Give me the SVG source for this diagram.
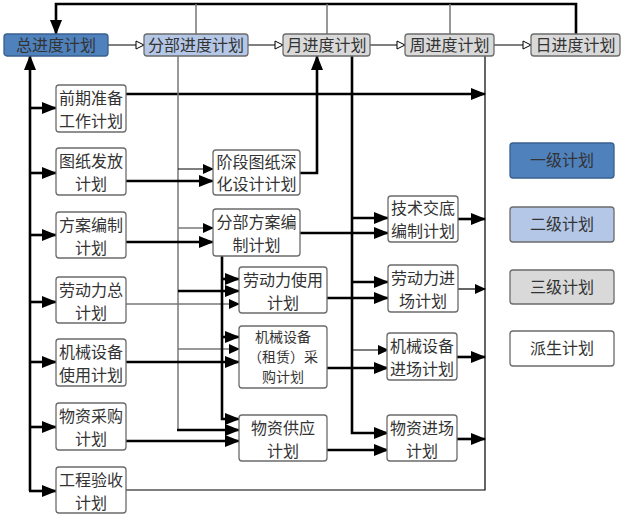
<svg xmlns="http://www.w3.org/2000/svg" width="625" height="517" viewBox="0 0 625 517">
<style>
.b{fill:#fff;stroke:#6b6b6b;stroke-width:1.3}
.l1{fill:#4f81bd;stroke:#3a5f8f;stroke-width:1.3}
.l2{fill:#b4c7e7;stroke:#6b6b6b;stroke-width:1.3}
.l3{fill:#d9d9d9;stroke:#6b6b6b;stroke-width:1.3}
text{font-family:"Noto Sans CJK SC","Noto Sans CJK JP",sans-serif;font-size:16px;fill:#333;text-anchor:middle}
.s{font-size:14px}
.tk{fill:none;stroke:#000;stroke-width:2.6}
.tn{fill:none;stroke:#000;stroke-width:1.2}
.gr{fill:none;stroke:#777;stroke-width:1.5}
</style>
<defs>
<marker id="big" markerUnits="userSpaceOnUse" markerWidth="15" markerHeight="12" refX="14" refY="6" orient="auto"><path d="M0,0 L15,6 L0,12 z" fill="#000"/></marker>
<marker id="sm" markerUnits="userSpaceOnUse" markerWidth="11" markerHeight="10" refX="10" refY="5" orient="auto"><path d="M0,0 L11,5 L0,10 z" fill="#000"/></marker>
<marker id="hol" markerUnits="userSpaceOnUse" markerWidth="10" markerHeight="10" refX="9" refY="5" orient="auto"><path d="M1,1 L9,5 L1,9 z" fill="#fff" stroke="#000" stroke-width="1"/></marker>
</defs>
<g id="connectors">
<path class="tk" d="M576,34 V4 H56 V34" marker-end="url(#big)"/>
<path class="gr" d="M196,4 V34 M327,4 V34 M450,4 V34"/>
<path class="tn" d="M108,45 H144" marker-end="url(#hol)"/>
<path class="tn" d="M248,45 H283" marker-end="url(#hol)"/>
<path class="tn" d="M370,45 H405" marker-end="url(#hol)"/>
<path class="tn" d="M494,45 H531" marker-end="url(#hol)"/>
<path class="tk" d="M30,491 V56" marker-end="url(#big)"/>
<path class="tk" d="M30,108 H56" marker-end="url(#big)"/>
<path class="tk" d="M30,173 H56" marker-end="url(#big)"/>
<path class="tk" d="M30,235 H56" marker-end="url(#big)"/>
<path class="tk" d="M30,302 H56" marker-end="url(#big)"/>
<path class="tk" d="M30,362 H56" marker-end="url(#big)"/>
<path class="tk" d="M30,427 H56" marker-end="url(#big)"/>
<path class="tk" d="M29,491 H56" marker-end="url(#big)"/>
<path class="tk" d="M126,94 H485" marker-end="url(#big)"/>
<path class="tn" d="M126,490 H485 V56"/>
<path class="gr" d="M178,56 V430"/>
<path class="tn" d="M178,169 H213" marker-end="url(#sm)"/>
<path class="gr" d="M178,228 H213" marker-end="url(#sm)"/>
<path class="tk" d="M178,291 H239" marker-end="url(#big)"/>
<path class="gr" d="M178,349 H239" marker-end="url(#sm)"/>
<path class="tk" d="M177,430 H239" marker-end="url(#big)"/>
<path class="tk" d="M126,181 H213" marker-end="url(#big)"/>
<path class="tk" d="M126,242 H213" marker-end="url(#big)"/>
<path class="gr" d="M126,304 H239" marker-end="url(#sm)"/>
<path class="tk" d="M126,362 H239" marker-end="url(#big)"/>
<path class="tk" d="M126,441 H239" marker-end="url(#big)"/>
<path class="tk" d="M222,256 V419 H239" marker-end="url(#big)"/>
<path class="tk" d="M222,279 H239" marker-end="url(#big)"/>
<path class="tk" d="M222,337 H239" marker-end="url(#big)"/>
<path class="tk" d="M300,173 H317 V56" marker-end="url(#big)"/>
<path class="tk" d="M352,56 V433 H388" marker-end="url(#big)"/>
<path class="tk" d="M352,218 H388" marker-end="url(#big)"/>
<path class="tk" d="M352,282 H388" marker-end="url(#big)"/>
<path class="tn" d="M352,350 H388" marker-end="url(#sm)"/>
<path class="tk" d="M300,233 H388" marker-end="url(#big)"/>
<path class="tk" d="M327,298 H388" marker-end="url(#big)"/>
<path class="tk" d="M327,368 H388" marker-end="url(#big)"/>
<path class="tk" d="M327,450 H388" marker-end="url(#big)"/>
<path class="tk" d="M458,219 H485" marker-end="url(#big)"/>
<path class="tn" d="M458,289 H485" marker-end="url(#sm)"/>
<path class="tk" d="M457,357 H485" marker-end="url(#big)"/>
<path class="tk" d="M457,439 H485" marker-end="url(#big)"/>
</g>
<g id="n-total"><rect class="l1" x="4" y="34" width="104" height="22" rx="3"/><text x="56" y="51">总进度计划</text></g>
<g id="n-fenbu"><rect class="l2" x="144" y="34" width="104" height="22" rx="3"/><text x="196" y="51">分部进度计划</text></g>
<g id="n-month"><rect class="l3" x="283" y="34" width="87" height="22" rx="3"/><text x="326.5" y="51">月进度计划</text></g>
<g id="n-week"><rect class="l3" x="405" y="34" width="89" height="22" rx="3"/><text x="449.5" y="51">周进度计划</text></g>
<g id="n-day"><rect class="l3" x="531" y="34" width="89" height="22" rx="3"/><text x="575.5" y="51">日进度计划</text></g>
<g id="n-qianqi"><rect class="b" x="56" y="85" width="70" height="47" rx="3"/><text x="91" y="104">前期准备</text><text x="91" y="127">工作计划</text></g>
<g id="n-tuzhi"><rect class="b" x="56" y="148" width="70" height="47" rx="3"/><text x="91" y="167">图纸发放</text><text x="91" y="190">计划</text></g>
<g id="n-fangan"><rect class="b" x="56" y="212" width="70" height="46" rx="3"/><text x="91" y="231">方案编制</text><text x="91" y="254">计划</text></g>
<g id="n-laodong"><rect class="b" x="56" y="277" width="70" height="46" rx="3"/><text x="91" y="296">劳动力总</text><text x="91" y="319">计划</text></g>
<g id="n-jixie"><rect class="b" x="56" y="339" width="70" height="47" rx="3"/><text x="91" y="358">机械设备</text><text x="91" y="381">使用计划</text></g>
<g id="n-caigou"><rect class="b" x="56" y="403" width="70" height="47" rx="3"/><text x="91" y="422">物资采购</text><text x="91" y="445">计划</text></g>
<g id="n-yanshou"><rect class="b" x="56" y="467" width="70" height="46" rx="3"/><text x="91" y="486">工程验收</text><text x="91" y="509">计划</text></g>
<g id="n-jieduan"><rect class="b" x="213" y="150" width="87" height="45" rx="3"/><text x="256.5" y="168">阶段图纸深</text><text x="256.5" y="190">化设计计划</text></g>
<g id="n-fbfangan"><rect class="b" x="213" y="209" width="87" height="47" rx="3"/><text x="256.5" y="228">分部方案编</text><text x="256.5" y="251">制计划</text></g>
<g id="n-ldsy"><rect class="b" x="239" y="267" width="88" height="46" rx="3"/><text x="283" y="286">劳动力使用</text><text x="283" y="309">计划</text></g>
<g id="n-jxzl"><rect class="b" x="239" y="326" width="88" height="62" rx="3"/><text class="s" x="283" y="342">机械设备</text><text class="s" x="283" y="362">（租赁）采</text><text class="s" x="283" y="382">购计划</text></g>
<g id="n-gongying"><rect class="b" x="239" y="415" width="88" height="46" rx="3"/><text x="283" y="434">物资供应</text><text x="283" y="457">计划</text></g>
<g id="n-jishu"><rect class="b" x="388" y="196" width="70" height="46" rx="3"/><text x="423" y="214">技术交底</text><text x="423" y="237">编制计划</text></g>
<g id="n-ldjc"><rect class="b" x="388" y="265" width="70" height="47" rx="3"/><text x="423" y="284">劳动力进</text><text x="423" y="307">场计划</text></g>
<g id="n-jxjc"><rect class="b" x="387" y="333" width="70" height="47" rx="3"/><text x="422" y="352">机械设备</text><text x="422" y="375">进场计划</text></g>
<g id="n-wzjc"><rect class="b" x="387" y="415" width="70" height="46" rx="3"/><text x="422" y="434">物资进场</text><text x="422" y="457">计划</text></g>
<g id="legend1"><rect class="l1" x="510" y="143" width="104" height="35" rx="3"/><text x="562" y="166">一级计划</text></g>
<g id="legend2"><rect class="l2" x="510" y="207" width="104" height="35" rx="3"/><text x="562" y="230">二级计划</text></g>
<g id="legend3"><rect class="l3" x="510" y="270" width="104" height="34" rx="3"/><text x="562" y="293">三级计划</text></g>
<g id="legend4"><rect class="b" x="510" y="331" width="104" height="35" rx="3"/><text x="562" y="354">派生计划</text></g>
</svg>
